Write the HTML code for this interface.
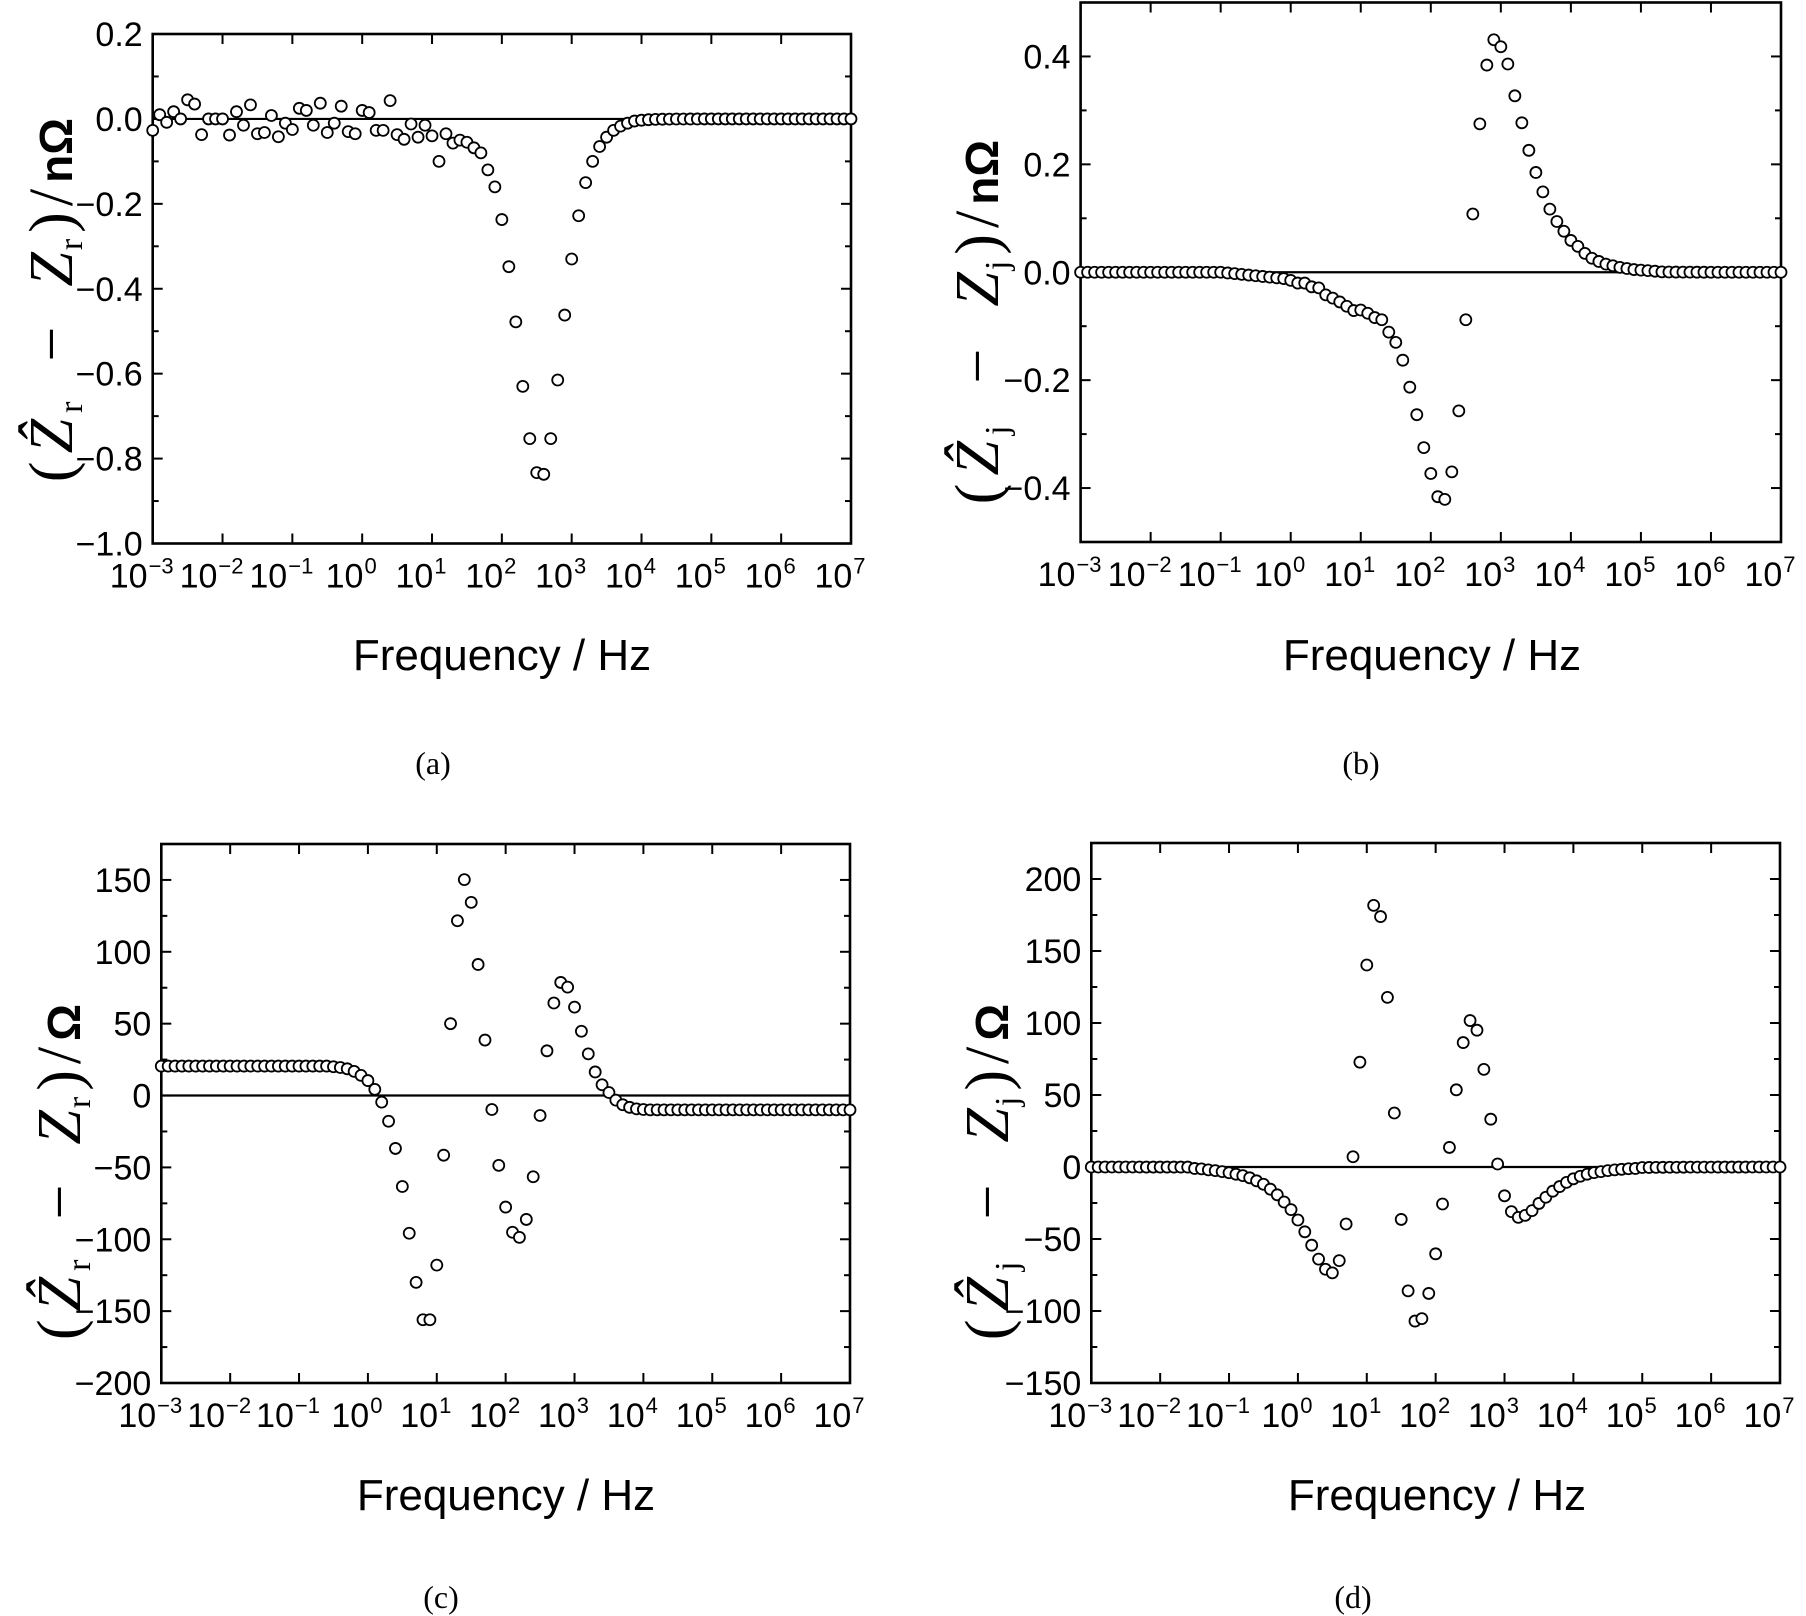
<!DOCTYPE html>
<html><head><meta charset="utf-8"><style>
html,body{margin:0;padding:0;background:#fff;}
svg{display:block;}
.tk{font-family:"Liberation Sans",sans-serif;font-size:34px;fill:#000;}
.sup{font-size:22px;}
.xl{font-family:"Liberation Sans",sans-serif;font-size:44px;fill:#000;}
.cap{font-family:"Liberation Serif",serif;font-size:32px;fill:#000;}
.yt{font-family:"Liberation Serif","DejaVu Serif",serif;font-size:62px;fill:#000;}
</style></head><body>
<svg id="s" width="1806" height="1616" viewBox="0 0 1806 1616" xmlns="http://www.w3.org/2000/svg">
<rect width="1806" height="1616" fill="#fff"/>
<g id="g"></g>
<text class="xl" x="502" y="670" text-anchor="middle">Frequency / Hz</text>
<text class="xl" x="1432" y="670" text-anchor="middle">Frequency / Hz</text>
<text class="xl" x="506" y="1510" text-anchor="middle">Frequency / Hz</text>
<text class="xl" x="1437" y="1510" text-anchor="middle">Frequency / Hz</text>
<text class="cap" x="433" y="774" text-anchor="middle">(a)</text>
<text class="cap" x="1361" y="774" text-anchor="middle">(b)</text>
<text class="cap" x="441" y="1608" text-anchor="middle">(c)</text>
<text class="cap" x="1353" y="1608" text-anchor="middle">(d)</text>
<g id="titles"></g>
</svg>
<script>
var NS="http://www.w3.org/2000/svg",G=document.getElementById("g");
function el(t,a,txt,par){var e=document.createElementNS(NS,t);for(var k in a)e.setAttribute(k,a[k]);if(txt!=null)e.textContent=txt;(par||G).appendChild(e);return e;}
function title(cx,cy,sub,unit,gap){
  var t=el("text",{"class":"yt",x:0,y:0,transform:"translate("+cx+","+cy+") rotate(-90)"},null,document.getElementById("titles"));
  var parts=[["(",{}],["Ẑ",{"font-style":"italic",dx:8}],[sub,{"font-size":34,dy:10,dx:6}],["−",{dy:-10,dx:gap}],["Z",{"font-style":"italic",dx:gap}],[sub,{"font-size":34,dy:10,dx:2}],[")",{dy:-10,dx:6}],["/",{dx:6}],[unit,{"font-family":"Liberation Sans","font-weight":"bold","font-size":46,dx:6}]];
  parts.forEach(function(p){el("tspan",p[1],p[0],t);});
  var bb=t.getBBox();
  t.setAttribute("x",-(bb.x+bb.width/2));
}
title(72,300,"r","nΩ",40);
title(998,322,"j","nΩ",42);
title(80,1172,"r","Ω",40);
title(1008,1172,"j","Ω",42);
var A=[-0.027,0.01,-0.008,0.017,0,0.045,0.035,-0.037,0,0,0,-0.038,0.017,-0.015,0.033,-0.035,-0.032,0.008,-0.042,-0.01,-0.025,0.025,0.02,-0.015,0.037,-0.032,-0.01,0.03,-0.03,-0.035,0.02,0.015,-0.027,-0.027,0.043,-0.037,-0.048,-0.012,-0.043,-0.015,-0.04,-0.1,-0.035,-0.057,-0.05,-0.055,-0.068,-0.08,-0.12,-0.16,-0.237,-0.348,-0.478,-0.63,-0.753,-0.833,-0.837,-0.753,-0.615,-0.462,-0.33,-0.228,-0.15,-0.1,-0.065,-0.043,-0.027,-0.017,-0.01,-0.005];
for(var i=70;i<=100;i++)A.push(-0.005*Math.exp(-(i-69)/2));
var B=[];for(i=0;i<=20;i++)B.push(0);for(i=21;i<=29;i++)B.push(-0.0013*(i-20));
B=B.concat([-0.015,-0.02,-0.02,-0.027,-0.029,-0.042,-0.048,-0.055,-0.063,-0.071,-0.07,-0.076,-0.084,-0.088,-0.111,-0.13,-0.163,-0.213,-0.264,-0.325,-0.373,-0.416,-0.421,-0.37,-0.257,-0.088,0.108,0.275,0.384,0.431,0.418,0.386,0.327,0.277,0.226,0.185,0.149,0.117,0.094,0.076,0.059,0.048,0.035,0.026,0.02,0.015,0.012,0.009,0.007,0.005,0.004,0.003,0.002]);
while(B.length<101)B.push(0.001*Math.exp(-(B.length-82)/3));
var C=[];for(i=0;i<=24;i++)C.push(20.5);
C=C.concat([20,19.5,18.6,16.8,14,10.4,4.3,-4.6,-17.9,-36.8,-63.3,-95.8,-130,-156,-156,-118,-41.5,50,121.6,150.2,134.4,91.2,38.6,-9.7,-48.6,-77.6,-95.1,-98.7,-86.2,-56.5,-13.9,31.1,64.4,78.7,75.4,61.5,44.7,29,16.4,7.5,2.1,-3.2,-6.4,-8.2,-9.3,-9.7]);
while(C.length<101)C.push(-10);
var D=[];for(i=0;i<=14;i++)D.push(-0.05*i/14);
D=D.concat([-1,-1.3,-2,-2.5,-3.2,-4,-5,-6,-7.5,-9.6,-12,-15.4,-19.3,-24.3,-29.6,-36.8,-45,-54.3,-64,-71,-73.5,-65,-39.6,7.1,72.8,140.3,181.7,173.9,117.8,37.5,-36.4,-86,-107,-105.3,-87.8,-60.3,-25.7,13.6,53.6,86.4,101.7,95,67.8,33.2,2.1,-20,-31,-35,-33.6,-30.3,-25.3,-21,-16.8,-13.6,-10.7,-8.2,-6.4,-5,-3.9,-3.2,-2.5,-2,-1.6,-1.2,-1]);
while(D.length<101)D.push(-0.5*Math.exp(-(D.length-78)/6));
function fmt(v,dec){var s=Math.abs(v).toFixed(dec);return (v<-1e-9?"\u2212":"")+s;}
function panel(o){
  var x0=o.x0,x1=o.x1,y0=o.yT,y1=o.yB,vmax=o.vmax,vmin=o.vmin;
  function Y(v){return y0+(vmax-v)/(vmax-vmin)*(y1-y0);}
  function X(l){return x0+(l+3)/10*(x1-x0);}
  el("line",{x1:x0,x2:x1,y1:Y(0),y2:Y(0),stroke:"#000","stroke-width":2.2});
  var n=Math.round((vmax-vmin)/o.minor);
  for(var k=0;k<=n;k++){var v=vmin+k*o.minor;var y=Y(v);
    var maj=Math.abs(v/o.major-Math.round(v/o.major))<1e-6;var L=maj?10:6;
    el("line",{x1:x0,x2:x0+L,y1:y,y2:y,stroke:"#000","stroke-width":2});
    el("line",{x1:x1,x2:x1-L,y1:y,y2:y,stroke:"#000","stroke-width":2});
    if(maj&&v<=o.lmax+1e-9&&v>=o.lmin-1e-9)el("text",{"class":"tk",x:x0-10,y:y+12,"text-anchor":"end"},fmt(v,o.dec));
  }
  for(var d=-3;d<=7;d++){var x=X(d);
    el("line",{x1:x,x2:x,y1:y1,y2:y1-10,stroke:"#000","stroke-width":2});
    el("line",{x1:x,x2:x,y1:y0,y2:y0+10,stroke:"#000","stroke-width":2});
    var t=el("text",{"class":"tk",x:x-11,y:y1+44,"text-anchor":"middle"},"10");
    el("tspan",{"class":"sup",dy:-14,dx:1},d<0?"\u2212"+(-d):""+d,t);
  }
  el("rect",{x:x0,y:y0,width:x1-x0,height:y1-y0,fill:"none",stroke:"#000","stroke-width":2.6});
  for(var i=0;i<=100;i++){el("circle",{cx:X(-3+i/10),cy:Y(o.data[i]),r:5.5,fill:"#fff",stroke:"#000","stroke-width":1.8});}
}
panel({x0:152.7,x1:851,yT:34,yB:543.5,vmax:0.2,vmin:-1.0,major:0.2,minor:0.1,dec:1,lmax:0.2,lmin:-1.0,data:A});
panel({x0:1080.6,x1:1781,yT:2.5,yB:542,vmax:0.5,vmin:-0.5,major:0.2,minor:0.1,dec:1,lmax:0.4,lmin:-0.4,data:B});
panel({x0:161.3,x1:850,yT:844,yB:1383,vmax:175,vmin:-200,major:50,minor:25,dec:0,lmax:150,lmin:-200,data:C});
panel({x0:1091.3,x1:1780,yT:843,yB:1383,vmax:225,vmin:-150,major:50,minor:25,dec:0,lmax:200,lmin:-150,data:D});
</script>
</body></html>
